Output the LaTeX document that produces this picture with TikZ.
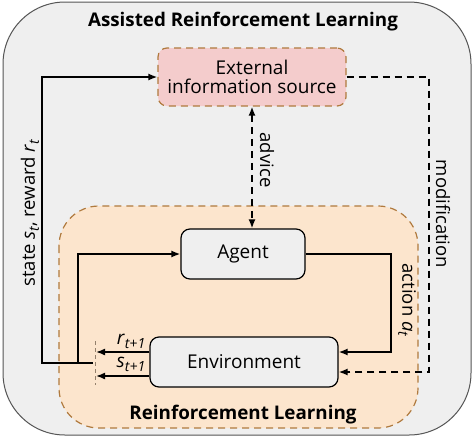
\documentclass[tikz,border=0pt]{standalone}
\usepackage{fontspec}
\setmainfont{Open Sans}
\usetikzlibrary{arrows.meta,calc}
\definecolor{outerfill}{HTML}{EFEFEF}
\definecolor{outerline}{HTML}{555555}
\definecolor{pinkfill}{HTML}{F4CCCC}
\definecolor{peachfill}{HTML}{FCE5CD}
\definecolor{brownline}{HTML}{B07A3E}
\definecolor{boxfill}{HTML}{EFEFEF}
\newcommand{\subit}[1]{\raisebox{-4pt}{\fontsize{14}{14}\selectfont\itshape #1}}
\tikzset{
  arr/.style={line width=1.6pt,-{Latex[length=9pt,width=7pt]}},
  arrtwo/.style={line width=1.6pt,{Latex[length=9pt,width=7pt]}-{Latex[length=9pt,width=7pt]}},
  dsh/.style={dash pattern=on 7pt off 5pt},
  procbox/.style={draw,line width=1.2pt,rounded corners=9pt,fill=boxfill,font=\fontsize{19}{22}\selectfont},
  lbl/.style={font=\fontsize{18.5}{21}\selectfont,inner sep=0pt},
  sublbl/.style={font=\fontsize{19}{21}\selectfont,inner sep=0pt},
  titlebox/.style={font=\bfseries\fontsize{18.8}{22}\selectfont,inner sep=0pt}
}
\begin{document}
\begin{tikzpicture}[x=1pt,y=-1pt]
\useasboundingbox (0,0) rectangle (474,437);
% outer region
\draw[fill=outerfill,draw=outerline,line width=1pt,rounded corners=62pt] (3,2) rectangle (471,435);
\node[titlebox] (title) at (243,22) {Assisted Reinforcement Learning};
% RL region
\draw[fill=peachfill,draw=brownline,line width=1.2pt,dsh,rounded corners=40pt] (59,206) rectangle (418,428);
\node[titlebox] (rltitle) at (243,415) {Reinforcement Learning};
% boxes
\node[procbox,fill=pinkfill,draw=brownline,dsh,minimum width=188pt,minimum height=58pt,align=center,inner sep=0pt] (ext) at (252,77) {External\\[-3pt]information source};
\node[procbox,minimum width=124pt,minimum height=50pt] (agent) at (243,254) {Agent};
\node[procbox,minimum width=188pt,minimum height=50pt] (env) at (244,362) {Environment};
% collector bar
\coordinate (bart) at (95,341);
\coordinate (barb) at (95,385);
\draw[gray!70!brown,line width=1pt,dash pattern=on 4pt off 3pt] (bart) -- (barb);
\coordinate (c1) at (93,363);
\coordinate (c2) at (78,363);
% outputs of env
\coordinate (rend) at (96,352);
\coordinate (send) at (96,376);
\draw[arr] (env.west|-rend) -- (rend);
\draw[arr] (env.west|-send) -- (send);
\node[sublbl] (rl) at (131,341) {\textit{r}\subit{t+1}};
\node[sublbl] (sl) at (131,364) {\textit{s}\subit{t+1}};
% feedback to external source
\draw[arr,line join=miter] (c1) -- (42,363) |- (ext.west);
% feedback to agent
\draw[arr] (c2) |- (agent.west);
% action
\coordinate (a1) at (391,352);
\draw[arr] (agent.east) -| (a1) -- (env.east|-a1);
% modification
\coordinate (m1) at (429,372);
\draw[arr,dsh] (ext.east) -| (m1) -- (env.east|-m1);
% advice
\draw[arrtwo,dsh] (ext.south) -- (ext.south|-agent.north);
% rotated labels
\node[lbl,rotate=-90] (adv) at (267,160) {advice};
\node[lbl,rotate=-90] (mod) at (443,214) {modification};
\node[lbl,rotate=-90] (act) at (407,300) {action \textit{a}\subit{t}};
\node[lbl,rotate=90] (st) at (30,213) {state \textit{s}\subit{t}, reward \textit{r}\subit{t}};
\end{tikzpicture}
\end{document}
